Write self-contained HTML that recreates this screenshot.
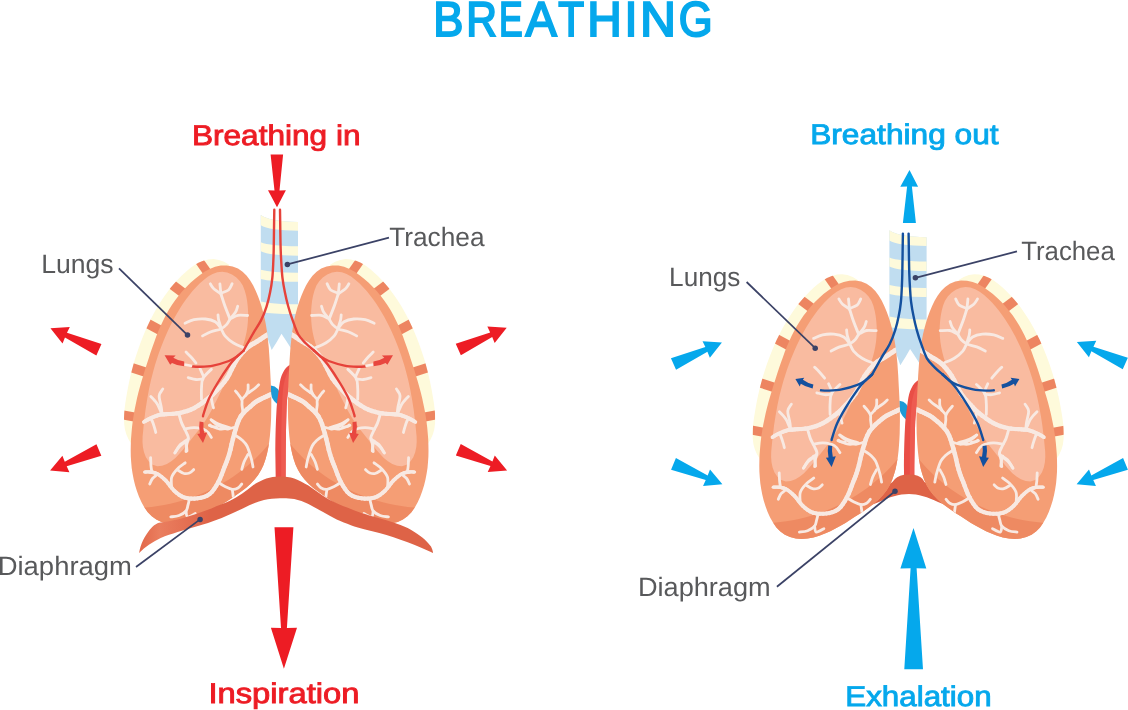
<!DOCTYPE html>
<html><head><meta charset="utf-8"><title>Breathing</title>
<style>
html,body{margin:0;padding:0;background:#fff;}
svg{display:block;font-family:"Liberation Sans",sans-serif;will-change:transform;}
.b{font-weight:bold;}
text{text-rendering:geometricPrecision;}
</style></head><body>
<svg width="1128" height="710" viewBox="0 0 1128 710">
<defs>
<linearGradient id="dgl" x1="139" y1="0" x2="215" y2="0" gradientUnits="userSpaceOnUse"><stop offset="0" stop-color="#EB7F5F"/><stop offset="1" stop-color="#DE6347"/></linearGradient>
<linearGradient id="dg" x1="139" y1="0" x2="433" y2="0" gradientUnits="userSpaceOnUse"><stop offset="0" stop-color="#E26749"/><stop offset="0.07" stop-color="#EA7E5F"/><stop offset="0.24" stop-color="#DE6347"/><stop offset="1" stop-color="#DE6347"/></linearGradient>
<clipPath id="lc"><path d="M220.8,265.5L226.8,265.4L232.6,266.4L238.0,268.6L242.6,271.8L246.7,275.8L250.2,280.5L253.2,285.6L255.8,291.0L258.1,296.5L260.1,302.1L261.9,307.7L263.4,313.3L264.8,319.1L265.9,324.8L266.8,330.6L267.6,336.4L268.2,342.3L268.8,348.1L269.2,354.0L269.6,359.9L269.9,365.8L270.2,371.6L270.5,377.4L270.8,383.3L271.0,389.1L271.2,394.9L271.3,400.8L271.3,406.6L271.2,412.4L271.1,418.3L270.8,424.2L270.4,430.1L269.9,436.1L269.2,442.0L268.2,447.9L267.0,453.8L265.4,459.4L263.5,464.9L261.1,470.1L258.1,475.0L254.6,479.5L250.6,483.7L246.2,487.7L241.5,491.3L236.6,494.8L231.6,498.2L226.6,501.4L221.7,504.6L216.8,507.7L211.9,510.6L206.8,513.4L201.7,516.0L196.3,518.4L190.6,520.5L184.8,522.2L178.9,523.3L173.0,523.8L167.2,523.3L161.5,521.9L156.3,519.6L151.8,516.3L147.8,512.2L144.4,507.4L141.5,502.3L139.0,496.7L136.9,491.0L135.1,485.3L133.7,479.6L132.6,473.8L131.7,468.1L131.2,462.3L130.8,456.5L130.7,450.7L130.8,444.8L131.0,439.0L131.5,433.1L132.0,427.3L132.7,421.4L133.6,415.6L134.6,409.8L135.8,404.0L137.0,398.3L138.4,392.6L139.9,386.9L141.5,381.3L143.2,375.7L144.9,370.1L146.7,364.5L148.5,358.9L150.3,353.3L152.2,347.7L154.2,342.2L156.2,336.6L158.4,331.1L160.7,325.7L163.2,320.4L165.8,315.2L168.7,310.1L171.7,305.2L175.0,300.4L178.6,295.7L182.3,291.2L186.3,286.9L190.5,282.8L194.9,278.9L199.6,275.2L204.5,271.8L209.7,268.9L215.1,266.7Z"/></clipPath>
<clipPath id="rc"><path d="M229.1,264.7L224.1,261.7L218.9,259.9L213.6,259.1L208.4,259.4L203.2,260.7L198.4,262.8L193.8,265.6L189.4,268.8L185.2,272.4L181.3,276.1L177.5,280.0L173.8,284.0L170.4,288.1L167.1,292.4L164.0,296.7L161.0,301.2L158.1,305.8L155.4,310.5L152.8,315.2L150.4,320.0L148.0,324.9L145.8,329.8L143.7,334.7L141.7,339.7L139.8,344.8L138.0,349.9L136.3,355.0L134.7,360.1L133.2,365.3L131.8,370.6L130.5,375.8L129.3,381.1L128.2,386.4L127.2,391.8L126.3,397.1L125.4,402.5L124.7,407.9L124.2,413.3L124.0,418.6L124.2,423.9L124.9,429.2L126.3,434.3L128.5,439.3L131.6,444.2L140,440L140,420L150,380L175,320L215,275L229,270Z"/></clipPath>
<g id="lung">
 <path d="M229.1,264.7L224.1,261.7L218.9,259.9L213.6,259.1L208.4,259.4L203.2,260.7L198.4,262.8L193.8,265.6L189.4,268.8L185.2,272.4L181.3,276.1L177.5,280.0L173.8,284.0L170.4,288.1L167.1,292.4L164.0,296.7L161.0,301.2L158.1,305.8L155.4,310.5L152.8,315.2L150.4,320.0L148.0,324.9L145.8,329.8L143.7,334.7L141.7,339.7L139.8,344.8L138.0,349.9L136.3,355.0L134.7,360.1L133.2,365.3L131.8,370.6L130.5,375.8L129.3,381.1L128.2,386.4L127.2,391.8L126.3,397.1L125.4,402.5L124.7,407.9L124.2,413.3L124.0,418.6L124.2,423.9L124.9,429.2L126.3,434.3L128.5,439.3L131.6,444.2L140,440L140,420L150,380L175,320L215,275L229,270Z" fill="#FEFADB"/>
 <g clip-path="url(#rc)" stroke="#ED8561"><line x1="196.9" y1="257.6" x2="209.5" y2="275.6" stroke-width="8.8"/><line x1="169.1" y1="282.4" x2="186.7" y2="295.6" stroke-width="9.6"/><line x1="145.3" y1="322.3" x2="164.7" y2="332.7" stroke-width="9.6"/><line x1="128.1" y1="366.6" x2="148.9" y2="373.2" stroke-width="9.4"/><line x1="118.2" y1="414.0" x2="139.8" y2="418.0" stroke-width="9.0"/></g>
 <path d="M220.8,265.5L226.8,265.4L232.6,266.4L238.0,268.6L242.6,271.8L246.7,275.8L250.2,280.5L253.2,285.6L255.8,291.0L258.1,296.5L260.1,302.1L261.9,307.7L263.4,313.3L264.8,319.1L265.9,324.8L266.8,330.6L267.6,336.4L268.2,342.3L268.8,348.1L269.2,354.0L269.6,359.9L269.9,365.8L270.2,371.6L270.5,377.4L270.8,383.3L271.0,389.1L271.2,394.9L271.3,400.8L271.3,406.6L271.2,412.4L271.1,418.3L270.8,424.2L270.4,430.1L269.9,436.1L269.2,442.0L268.2,447.9L267.0,453.8L265.4,459.4L263.5,464.9L261.1,470.1L258.1,475.0L254.6,479.5L250.6,483.7L246.2,487.7L241.5,491.3L236.6,494.8L231.6,498.2L226.6,501.4L221.7,504.6L216.8,507.7L211.9,510.6L206.8,513.4L201.7,516.0L196.3,518.4L190.6,520.5L184.8,522.2L178.9,523.3L173.0,523.8L167.2,523.3L161.5,521.9L156.3,519.6L151.8,516.3L147.8,512.2L144.4,507.4L141.5,502.3L139.0,496.7L136.9,491.0L135.1,485.3L133.7,479.6L132.6,473.8L131.7,468.1L131.2,462.3L130.8,456.5L130.7,450.7L130.8,444.8L131.0,439.0L131.5,433.1L132.0,427.3L132.7,421.4L133.6,415.6L134.6,409.8L135.8,404.0L137.0,398.3L138.4,392.6L139.9,386.9L141.5,381.3L143.2,375.7L144.9,370.1L146.7,364.5L148.5,358.9L150.3,353.3L152.2,347.7L154.2,342.2L156.2,336.6L158.4,331.1L160.7,325.7L163.2,320.4L165.8,315.2L168.7,310.1L171.7,305.2L175.0,300.4L178.6,295.7L182.3,291.2L186.3,286.9L190.5,282.8L194.9,278.9L199.6,275.2L204.5,271.8L209.7,268.9L215.1,266.7Z" fill="#F59E75"/>
 <g clip-path="url(#lc)">
  <path d="M222.2,271.7L227.2,272.5L232.0,274.5L236.4,277.5L240.0,281.2L242.8,285.6L244.7,290.4L246.1,295.5L247.1,300.7L247.7,306.0L248.1,311.2L248.1,316.4L247.9,321.6L247.4,326.8L246.6,331.9L245.5,337.0L244.2,342.0L242.6,346.9L240.7,351.7L238.6,356.4L236.3,361.1L233.9,365.7L231.4,370.4L229.0,375.0L226.6,379.7L224.3,384.4L222.0,389.2L219.7,393.9L217.5,398.6L215.1,403.3L212.8,407.9L210.3,412.4L207.7,416.9L205.0,421.2L202.1,425.4L199.1,429.5L195.9,433.6L192.7,437.6L189.4,441.7L186.1,445.8L182.7,450.0L179.1,454.1L175.4,458.0L171.3,461.3L166.9,464.0L162.1,465.8L157.3,466.2L152.7,464.7L148.8,461.6L145.9,457.3L144.0,452.3L142.9,447.1L142.5,441.9L142.6,436.6L143.1,431.4L143.6,426.1L144.1,420.9L144.8,415.7L145.4,410.6L146.2,405.4L147.0,400.3L147.9,395.2L148.8,390.2L149.9,385.1L151.0,380.1L152.3,375.0L153.6,370.0L155.0,365.0L156.6,360.0L158.2,355.0L160.0,350.1L161.8,345.2L163.8,340.3L165.8,335.5L167.9,330.7L170.2,326.0L172.5,321.4L175.0,316.8L177.5,312.4L180.2,308.0L182.9,303.7L185.9,299.5L189.0,295.4L192.3,291.3L195.8,287.4L199.6,283.6L203.7,279.9L208.1,276.6L212.6,274.0L217.3,272.2Z" fill="#F9BBA0"/>
  <path d="M119.9,507.9L126.3,508.1L132.6,508.2L139.0,508.0L145.3,507.5L151.6,506.9L157.8,506.0L164.1,505.0L170.3,503.7L176.4,502.2L182.5,500.5L188.5,498.7L194.4,496.6L200.3,494.3L206.1,491.8L211.8,489.1L217.4,486.2L222.8,483.1L228.2,479.9L233.5,476.4L238.6,472.8L243.6,468.9L248.4,464.9L253.2,460.7L257.7,456.3L262.1,451.8L266.3,447.0L270.4,442.1L274.2,437.0L277.9,431.8L285,540L115,540Z" fill="#EE8A62"/>
  <g fill="none" stroke="#F8E9E2" stroke-linecap="round" stroke-linejoin="round"><path d="M268.5,334.0L266.4,335.4" stroke-width="4.80"/><path d="M266.4,335.4L263.4,337.3" stroke-width="4.80"/><path d="M263.4,337.3L260.1,339.5" stroke-width="4.80"/><path d="M260.1,339.5L257.0,341.5" stroke-width="4.80"/><path d="M257.0,341.5L254.2,343.2" stroke-width="4.79"/><path d="M254.2,343.2L251.5,344.7" stroke-width="4.79"/><path d="M251.5,344.7L248.8,346.5" stroke-width="4.79"/><path d="M248.8,346.5L246.2,348.6" stroke-width="4.78"/><path d="M246.2,348.6L243.6,351.2" stroke-width="4.77"/><path d="M243.6,351.2L241.0,354.2" stroke-width="4.77"/><path d="M241.0,354.2L238.5,357.4" stroke-width="4.76"/><path d="M238.5,357.4L236.0,361.0" stroke-width="4.75"/><path d="M236.0,361.0L233.7,365.1" stroke-width="4.74"/><path d="M233.7,365.1L231.4,369.7" stroke-width="4.73"/><path d="M231.4,369.7L229.2,374.3" stroke-width="4.71"/><path d="M229.2,374.3L226.9,378.3" stroke-width="4.70"/><path d="M226.9,378.3L224.4,381.7" stroke-width="4.69"/><path d="M224.4,381.7L221.9,384.7" stroke-width="4.67"/><path d="M221.9,384.7L219.4,387.5" stroke-width="4.65"/><path d="M219.4,387.5L217.0,390.0" stroke-width="4.63"/><path d="M217.0,390.0L214.9,392.2" stroke-width="4.62"/><path d="M214.9,392.2L213.1,394.1" stroke-width="4.59"/><path d="M213.1,394.1L211.1,396.0" stroke-width="4.57"/><path d="M211.1,396.0L208.6,398.0" stroke-width="4.55"/><path d="M208.6,398.0L205.5,400.5" stroke-width="4.53"/><path d="M205.5,400.5L201.9,403.1" stroke-width="4.50"/><path d="M201.9,403.1L198.2,405.7" stroke-width="4.48"/><path d="M198.2,405.7L194.5,407.9" stroke-width="4.45"/><path d="M194.5,407.9L191.0,409.6" stroke-width="4.42"/><path d="M191.0,409.6L187.5,410.9" stroke-width="4.39"/><path d="M187.5,410.9L183.9,411.9" stroke-width="4.36"/><path d="M183.9,411.9L180.4,412.8" stroke-width="4.32"/><path d="M180.4,412.8L176.7,413.4" stroke-width="4.29"/><path d="M176.7,413.4L172.9,413.8" stroke-width="4.26"/><path d="M172.9,413.8L169.3,414.0" stroke-width="4.22"/><path d="M169.3,414.0L166.3,414.2" stroke-width="4.18"/><path d="M166.3,414.2L164.1,414.4" stroke-width="4.14"/><path d="M164.1,414.4L162.5,414.4" stroke-width="4.10"/><path d="M162.5,414.4L161.0,414.5" stroke-width="4.06"/><path d="M161.0,414.5L159.3,414.9" stroke-width="4.02"/><path d="M159.3,414.9L157.1,415.6" stroke-width="3.97"/><path d="M157.1,415.6L154.6,416.5" stroke-width="3.93"/><path d="M154.6,416.5L152.2,417.5" stroke-width="3.88"/><path d="M152.2,417.5L150.0,418.5" stroke-width="3.83"/><path d="M150.0,418.5L148.1,419.5" stroke-width="3.78"/><path d="M148.1,419.5L146.3,420.5" stroke-width="3.73"/><path d="M146.3,420.5L144.8,421.4" stroke-width="3.68"/><path d="M144.8,421.4L143.8,422.0" stroke-width="3.63"/><path d="M271.3,394.3L269.6,395.0" stroke-width="4.60"/><path d="M269.6,395.0L267.2,396.1" stroke-width="4.60"/><path d="M267.2,396.1L264.5,397.3" stroke-width="4.60"/><path d="M264.5,397.3L262.0,398.5" stroke-width="4.60"/><path d="M262.0,398.5L259.9,399.6" stroke-width="4.60"/><path d="M259.9,399.6L257.9,400.6" stroke-width="4.59"/><path d="M257.9,400.6L255.8,401.9" stroke-width="4.59"/><path d="M255.8,401.9L253.4,403.8" stroke-width="4.59"/><path d="M253.4,403.8L250.4,406.4" stroke-width="4.58"/><path d="M250.4,406.4L246.9,409.4" stroke-width="4.58"/><path d="M246.9,409.4L243.5,412.9" stroke-width="4.57"/><path d="M243.5,412.9L240.7,416.5" stroke-width="4.56"/><path d="M240.7,416.5L238.7,420.3" stroke-width="4.56"/><path d="M238.7,420.3L237.1,424.4" stroke-width="4.55"/><path d="M237.1,424.4L235.8,428.8" stroke-width="4.54"/><path d="M235.8,428.8L234.4,433.4" stroke-width="4.53"/><path d="M234.4,433.4L233.0,438.6" stroke-width="4.52"/><path d="M233.0,438.6L231.6,444.2" stroke-width="4.51"/><path d="M231.6,444.2L230.4,449.7" stroke-width="4.49"/><path d="M230.4,449.7L229.1,454.5" stroke-width="4.48"/><path d="M229.1,454.5L227.9,458.2" stroke-width="4.47"/><path d="M227.9,458.2L226.9,461.1" stroke-width="4.45"/><path d="M226.9,461.1L225.8,463.9" stroke-width="4.44"/><path d="M225.8,463.9L224.5,467.0" stroke-width="4.42"/><path d="M224.5,467.0L223.1,470.7" stroke-width="4.40"/><path d="M223.1,470.7L221.6,474.7" stroke-width="4.39"/><path d="M221.6,474.7L220.0,478.7" stroke-width="4.37"/><path d="M220.0,478.7L218.2,482.3" stroke-width="4.35"/><path d="M218.2,482.3L216.3,485.7" stroke-width="4.33"/><path d="M216.3,485.7L214.3,488.8" stroke-width="4.31"/><path d="M214.3,488.8L212.1,491.7" stroke-width="4.28"/><path d="M212.1,491.7L209.7,494.0" stroke-width="4.26"/><path d="M209.7,494.0L207.0,495.7" stroke-width="4.24"/><path d="M207.0,495.7L204.1,496.9" stroke-width="4.21"/><path d="M204.1,496.9L201.0,497.8" stroke-width="4.19"/><path d="M201.0,497.8L197.9,498.3" stroke-width="4.16"/><path d="M197.9,498.3L194.6,498.6" stroke-width="4.13"/><path d="M194.6,498.6L191.1,498.6" stroke-width="4.10"/><path d="M191.1,498.6L187.6,498.2" stroke-width="4.07"/><path d="M187.6,498.2L184.4,497.5" stroke-width="4.04"/><path d="M184.4,497.5L181.6,496.3" stroke-width="4.01"/><path d="M181.6,496.3L179.0,494.7" stroke-width="3.98"/><path d="M179.0,494.7L176.5,492.8" stroke-width="3.94"/><path d="M176.5,492.8L174.2,490.7" stroke-width="3.91"/><path d="M174.2,490.7L172.0,488.3" stroke-width="3.87"/><path d="M172.0,488.3L169.9,485.7" stroke-width="3.84"/><path d="M169.9,485.7L167.9,483.0" stroke-width="3.80"/><path d="M167.9,483.0L165.8,480.6" stroke-width="3.76"/><path d="M165.8,480.6L163.7,478.6" stroke-width="3.72"/><path d="M163.7,478.6L161.5,476.7" stroke-width="3.68"/><path d="M161.5,476.7L159.3,475.1" stroke-width="3.64"/><path d="M159.3,475.1L157.3,473.8" stroke-width="3.60"/><path d="M157.3,473.8L155.3,473.0" stroke-width="3.56"/><path d="M155.3,473.0L153.5,472.5" stroke-width="3.51"/><path d="M153.5,472.5L151.7,472.2" stroke-width="3.47"/><path d="M151.7,472.2L150.0,472.0" stroke-width="3.42"/><path d="M150.0,472.0L148.4,471.9" stroke-width="3.37"/><path d="M148.4,471.9L146.8,471.9" stroke-width="3.33"/><path d="M146.8,471.9L145.5,472.0" stroke-width="3.28"/><path d="M145.5,472.0L144.6,472.0" stroke-width="3.23"/><path d="M210.3,283.8C210.9,284.7 212.2,287.4 214.0,289.0C215.8,290.6 219.7,292.9 220.8,293.7" stroke-width="2.8"/><path d="M219.9,283.8C220.0,284.8 220.3,288.2 220.5,290.0C220.7,291.8 221.0,293.7 221.1,294.4" stroke-width="2.8"/><path d="M232.1,283.8C231.5,284.8 230.3,288.5 228.5,290.0C226.7,291.5 222.7,292.5 221.5,293.0" stroke-width="2.8"/><path d="M221.1,294.4C221.8,296.4 223.5,302.2 225.0,306.3C226.5,310.4 229.2,316.9 230.0,319.0" stroke-width="2.9"/><path d="M230.0,319.0C230.9,317.8 234.3,314.1 235.6,312.0C236.9,309.9 237.3,307.2 237.7,306.3" stroke-width="2.8"/><path d="M232.0,318.0C233.0,317.6 235.4,315.7 238.0,315.3C240.6,314.9 246.0,315.5 247.6,315.5" stroke-width="2.8"/><path d="M230.0,319.0C229.4,319.9 228.0,323.0 226.5,324.6C225.0,326.2 223.4,327.7 220.8,328.9C218.2,330.1 214.1,330.5 211.0,331.7C207.9,332.9 203.9,335.2 202.5,335.9" stroke-width="2.8"/><path d="M185.0,323.2C186.5,322.6 190.6,320.4 194.0,319.7C197.4,319.0 201.9,318.6 205.4,319.0C208.9,319.4 212.6,320.3 215.2,321.8C217.8,323.3 219.2,325.9 220.8,328.2C222.4,330.5 222.9,333.4 225.0,335.9C227.1,338.4 230.4,341.1 233.5,343.0C236.6,344.9 241.8,346.8 243.4,347.5" stroke-width="2.8"/><path d="M218.0,314.8C218.1,315.7 218.2,318.4 218.7,320.4C219.2,322.4 220.5,325.7 220.8,326.8" stroke-width="2.8"/><path d="M211.4,369.2C210.0,370.7 204.7,375.1 203.0,378.3C201.3,381.5 201.8,384.7 201.5,388.2C201.2,391.7 201.5,397.5 201.5,399.4" stroke-width="2.8"/><path d="M188.2,377.6C189.5,377.9 193.5,379.3 196.0,379.5C198.5,379.7 201.8,379.1 203.0,379.0" stroke-width="2.8"/><path d="M200.0,368.5C200.3,369.2 201.4,371.6 202.0,373.0C202.6,374.4 203.4,376.3 203.7,377.0" stroke-width="2.8"/><path d="M186.0,352.0C186.8,352.8 189.3,355.2 191.0,357.0C192.7,358.8 195.2,362.0 196.0,363.0" stroke-width="2.8"/><path d="M162.8,388.9C162.3,389.8 160.2,392.5 159.6,394.0C159.0,395.5 159.0,395.7 159.3,398.0C159.6,400.3 161.0,405.2 161.4,407.9C161.8,410.6 161.9,413.1 162.0,414.2" stroke-width="2.8"/><path d="M150.8,396.6C151.5,397.3 153.8,399.6 155.0,401.0C156.2,402.4 157.0,403.3 157.9,405.0C158.8,406.7 160.2,410.3 160.7,411.4" stroke-width="2.8"/><path d="M151.5,419.5C151.8,420.1 152.5,421.6 153.0,423.0C153.5,424.4 154.1,426.4 154.6,428.0C155.1,429.6 155.6,431.8 155.8,432.5" stroke-width="2.8"/><path d="M179.0,414.2C179.5,415.7 180.6,420.5 181.8,423.4C183.0,426.3 184.9,429.2 186.0,431.8C187.1,434.4 189.1,436.8 188.2,438.9C187.3,441.0 182.6,442.1 180.4,444.5C178.2,446.9 175.7,451.6 174.8,453.0" stroke-width="2.9"/><path d="M188.2,438.9C188.0,439.8 187.2,442.4 186.8,444.5C186.4,446.6 186.1,450.3 186.0,451.5" stroke-width="2.8"/><path d="M184.6,429.0C186.2,428.8 191.0,427.4 194.5,427.6C198.0,427.8 203.0,428.8 205.8,430.4C208.6,432.0 210.5,436.3 211.4,437.5" stroke-width="2.8"/><path d="M211.4,419.9C212.6,420.6 215.4,422.7 218.5,424.0C221.6,425.3 227.8,427.0 229.7,427.6" stroke-width="2.8"/><path d="M209.3,425.5C211.1,426.1 217.1,428.5 219.9,429.0C222.7,429.5 225.0,428.6 226.0,428.5" stroke-width="2.8"/><path d="M213.5,407.9C213.2,406.9 212.3,403.6 212.0,402.0C211.7,400.4 211.5,398.7 211.4,398.0" stroke-width="2.8"/><path d="M242.8,411.2C242.7,410.2 242.2,406.9 242.0,405.0C241.8,403.1 242.5,401.4 241.8,399.6C241.1,397.8 239.1,395.4 238.0,394.0C236.9,392.6 235.8,391.5 235.4,391.0" stroke-width="2.8"/><path d="M241.8,399.6C242.5,398.8 244.8,396.2 246.0,395.0C247.2,393.8 248.7,392.7 249.2,392.2" stroke-width="2.8"/><path d="M246.0,395.0C246.3,394.2 247.7,391.7 248.0,390.0C248.3,388.3 248.1,385.7 248.1,384.8" stroke-width="2.8"/><path d="M249.2,392.2C250.0,391.7 252.4,390.2 254.0,389.0C255.6,387.8 257.9,385.5 258.7,384.8" stroke-width="2.8"/><path d="M235.4,427.0C234.2,427.3 229.9,428.8 228.0,429.0C226.1,429.2 225.8,428.8 223.8,428.0C221.8,427.2 218.1,425.4 216.0,424.0C213.9,422.6 211.8,420.4 211.0,419.7" stroke-width="2.8"/><path d="M216.4,427.0C215.7,426.9 213.1,426.8 212.0,426.5C210.9,426.2 210.3,425.2 210.0,425.0" stroke-width="2.8"/><path d="M235.4,435.5C236.5,436.2 240.1,438.2 242.0,440.0C243.9,441.8 245.4,442.9 247.0,446.0C248.6,449.1 250.3,455.2 251.3,458.7C252.3,462.2 252.7,465.6 253.0,467.0" stroke-width="2.8"/><path d="M248.0,454.5C247.3,455.8 245.0,459.5 244.0,462.0C243.0,464.5 242.2,468.1 241.8,469.3" stroke-width="2.8"/><path d="M217.5,482.0C218.8,482.8 222.5,485.3 225.0,486.5C227.5,487.7 230.1,489.1 232.3,489.4C234.5,489.6 236.4,488.9 238.0,488.0C239.6,487.1 241.2,484.7 241.8,484.0" stroke-width="2.8"/><path d="M232.3,489.4C232.4,490.0 232.6,491.8 232.8,493.0C233.0,494.2 233.2,496.2 233.3,496.8" stroke-width="2.8"/><path d="M171.7,488.0C171.7,486.2 170.7,480.4 171.7,477.2C172.7,474.0 175.3,471.1 177.6,468.7C179.8,466.3 183.9,463.8 185.2,462.8" stroke-width="2.8"/><path d="M177.6,470.0C178.7,470.6 182.0,473.0 184.0,473.5C186.0,474.0 187.8,473.6 189.4,473.0C191.0,472.4 193.0,470.2 193.7,469.6" stroke-width="2.8"/><path d="M150.6,457.7C150.7,459.1 150.8,463.5 151.0,466.0C151.2,468.5 151.8,471.4 152.0,472.5" stroke-width="2.8"/><path d="M157.3,474.5C156.5,475.2 153.8,476.9 152.5,478.5C151.2,480.1 150.2,483.1 149.7,484.0" stroke-width="2.8"/><path d="M189.4,499.0C189.2,500.0 188.6,503.0 188.0,505.0C187.4,507.0 187.5,509.2 186.0,511.0C184.5,512.8 181.5,514.5 179.0,515.5C176.5,516.5 172.2,516.7 170.8,516.9" stroke-width="2.8"/><path d="M186.0,511.0C186.3,512.0 186.1,516.5 187.7,516.9C189.2,517.3 194.0,514.1 195.3,513.5" stroke-width="2.8"/><path d="M175.0,452.7C175.7,451.8 177.4,448.7 179.0,447.0C180.6,445.3 183.5,443.2 184.4,442.5" stroke-width="2.8"/><path d="M187.0,451.0C186.9,450.2 186.8,447.7 186.5,446.0C186.2,444.3 185.2,441.8 185.0,441.0" stroke-width="2.8"/></g>
 </g>
</g>
<g id="trachea">
 <path d="M260.8,215.1 Q269,221.5 298,222.1 L298,306 Q296,330 290.8,348 Q287,342 281.5,333.8 Q277,342 271.7,350 Q264,330 260.8,306 Z" fill="#C0DDF0"/>
 <g fill="#FEFADB">
  <path d="M260.8,215.1 Q269,221.5 298,222.1 L298,230.7 Q269,230.5 260.8,225.3Z"/>
  <path d="M260.8,242.2 Q270,246 298,246.2 L298,255.7 Q270,255.5 260.8,251.2Z"/>
  <path d="M260.8,269.8 Q272,272.8 298,272.7 L298,281.7 Q272,281.9 260.8,278.9Z"/>
  <path d="M260.8,301.4 Q274,304.5 298,304.2 L298,314 Q274,314.3 261.6,312Z"/>
 </g>
</g>
<g id="vessel">
 <path d="M270.8,385.5 Q279.5,386.5 281,397 L279.5,405.5 Q273,402 270.8,394Z" fill="#1C9AD6"/>
 <path d="M292,363.5 C286,366 281.5,373 279.8,382.4 C278.5,391 277,402 276.5,410 C275.8,422 275.4,435 275.3,450 L275.7,477.5 L285.6,477.5 L285.7,455 C285.8,440 286.2,420 286.5,410 C286.8,400 288,385 292,376 Z" fill="#E94E46"/>
 <path d="M292,366 C287,370 284,380 282.8,392 C282,402 281.5,420 281.2,440 L281.2,477.5 L285.6,477.5 L285.7,455 C285.8,440 286.2,420 286.5,410 C286.8,400 288,385 292,376 Z" fill="#EE5B51"/>
</g>
<g id="back">
 <use href="#trachea"/>
 <use href="#vessel"/>
</g>
<g id="lungs">
 <use href="#lung"/>
 <use href="#lung" transform="translate(559.2,0) scale(-1,1)"/>
</g>
<g id="flow" fill="none" stroke-linecap="round"><path d="M274.3,209.8C274.2,213.2 274.1,223.3 274.0,230.0C273.9,236.7 273.8,244.3 273.7,250.0C273.6,255.7 273.4,259.3 273.2,264.0C273.0,268.7 272.8,273.5 272.3,278.2C271.8,282.9 271.1,287.6 270.1,292.3C269.2,297.0 268.1,301.6 266.6,306.3C265.1,311.0 263.4,315.7 261.0,320.4C258.6,325.1 255.4,329.4 252.5,334.5C249.6,339.6 245.0,348.0 243.5,350.7"/><path d="M243.5,350.7C242.4,351.7 239.4,354.8 237.0,356.5C234.6,358.2 232.9,359.5 228.9,361.0C224.9,362.5 217.9,364.6 213.1,365.6C208.3,366.6 203.4,366.7 200.0,366.8C196.6,366.9 193.7,366.6 192.4,366.5"/><path d="M243.5,350.7C242.2,351.8 238.3,355.1 236.0,357.5C233.7,359.9 232.9,360.4 229.7,364.8C226.5,369.2 220.5,378.2 217.0,384.0C213.5,389.8 210.8,394.5 208.6,399.4C206.4,404.3 204.6,410.7 203.7,413.5C202.8,416.3 203.1,415.8 203.0,416.3"/><path d="M280.0,209.8C280.1,213.2 280.2,223.3 280.3,230.0C280.4,236.7 280.5,244.3 280.7,250.0C280.9,255.7 281.1,259.3 281.4,264.0C281.7,268.7 281.9,273.5 282.5,278.2C283.1,282.9 283.9,287.6 284.9,292.3C285.8,297.0 286.9,301.6 288.2,306.3C289.5,311.0 291.0,315.7 292.7,320.4C294.4,325.1 296.1,330.6 298.3,334.5C300.5,338.4 303.4,340.8 306.0,343.5C308.6,346.2 312.8,349.5 314.1,350.7"/><path d="M314.1,350.7C315.2,351.7 318.2,354.8 320.6,356.5C323.0,358.2 324.7,359.5 328.7,361.0C332.7,362.5 339.7,364.6 344.5,365.6C349.3,366.6 354.2,366.7 357.6,366.8C361.1,366.9 363.9,366.6 365.2,366.5"/><path d="M314.1,350.7C315.4,351.8 319.3,355.1 321.6,357.5C323.9,359.9 324.7,360.4 327.9,364.8C331.1,369.2 337.1,378.2 340.6,384.0C344.1,389.8 346.8,394.5 349.0,399.4C351.2,404.3 353.0,410.7 353.9,413.5C354.8,416.3 354.5,415.8 354.6,416.3"/></g>
<path id="arrS" d="M0,-6.3 L36,-2.5 L35.8,-9 L53,0 L35.8,9 L36,2.5 L0,6.3Z"/>
</defs>
<rect width="1128" height="710" fill="#fff"/>

<g aria-label="BREATHING" font-size="49" fill="#05A8EC" stroke="#05A8EC" stroke-width="2" stroke-linejoin="miter" text-rendering="geometricPrecision"><text transform="translate(433.22,35.7) scale(0.9228,1)">B</text><text transform="translate(466.18,35.7) scale(0.8694,1)">R</text><text transform="translate(498.91,35.7) scale(0.7248,1)">E</text><text transform="translate(525.56,35.7) scale(0.9569,1)">A</text><text transform="translate(558.23,35.7) scale(0.8643,1)">T</text><text transform="translate(587.25,35.7) scale(0.9765,1)">H</text><text transform="translate(624.45,35.7) scale(0.9537,1)">I</text><text transform="translate(640.03,35.7) scale(1.0173,1)">N</text><text transform="translate(678.81,35.7) scale(0.8883,1)">G</text></g>

<!-- LEFT FIGURE -->
<use href="#back"/><use href="#lungs"/>
<use href="#flow" stroke="#E6423A" stroke-width="2.4"/>
<g fill="#E8473F">
 <path d="M164.6,355.2 L175.7,355.6 L173.3,357.7 Q178,360.6 184.2,361.6 L184.2,366.3 Q177,365.6 172,362.9 L170.2,364.8Z"/><path d="M203,443.1 L197.3,433.9 L199.9,433.6 Q198.6,427.5 199.6,421.6 L203.6,422.2 Q202.9,427.5 204.2,433 L207.2,432.5Z"/>
 <g transform="translate(557.6,0) scale(-1,1)"><path d="M164.6,355.2 L175.7,355.6 L173.3,357.7 Q178,360.6 184.2,361.6 L184.2,366.3 Q177,365.6 172,362.9 L170.2,364.8Z"/><path d="M203,443.1 L197.3,433.9 L199.9,433.6 Q198.6,427.5 199.6,421.6 L203.6,422.2 Q202.9,427.5 204.2,433 L207.2,432.5Z" transform="translate(1.5,0)"/></g>
</g>
<g stroke="#FBEDE6" stroke-width="2.4" fill="none">
 <path d="M184.4,364.5 L192.2,366"/><path d="M373.20000000000005,364.5 L365.40000000000003,366"/>
</g>
<path d="M139.1,552.9 C140.5,545 144,536 152.2,527 C155,524.5 157,523.5 159,522.8 C166,521.5 172,520.5 177.6,519.4 C184,518 189,516 194.5,514.4 C200,512.5 206,510.5 211.4,508.4 C218,505.5 224,503.5 230,500.8 C238,497 246,491 253.4,485 C262,479.5 270,476.5 279,476.5 C285,476.5 290,477 294.2,478.4 C299,480 304,483 308.4,485.5 C313,488.5 318,492.5 322.6,495.5 C327,498.5 332,501 336.7,503.3 C341,505.5 346,507 350.9,508.9 C356,510.8 360,512.5 365.1,513.9 C370,515.5 374,516.8 379.3,518.2 C384,519.5 389,521 393.5,522.4 C398,524 403,525.8 407.7,528 C410,529.3 412.5,530.8 414.8,532.3 C418.5,534.5 421.5,536.8 424.7,539.4 C427,541.5 429.2,544 431,546.5 C432,548.5 432.7,550.5 433.2,552.9 C429.5,551.5 425.5,549.8 421.8,548 C417,546 412.5,544.2 407.7,542.3 C403,540.5 398,539 393.5,537.3 C389,535.8 384,534.3 379.3,533 C374.5,531.8 370,530.8 365.1,529.5 C360,528.2 355.5,526.8 350.9,525.2 C346,523.5 341.5,521.8 336.7,519.6 C332,517.3 327.5,514.6 322.6,511.8 C318,509.2 313,506.3 308.4,504 C304,501.8 299,500 294.2,499 C290,498.3 285,498.2 280,498.3 C274.5,498.4 269,499 264,500 C256.5,501.8 249.5,505 242.8,508.4 C236,511.5 229,515 221.7,518 C212.5,521.5 203.5,524.5 194.5,527 C189,528.6 183,530.4 177.6,532.1 C172,533.9 166,535.9 160.7,538 C156.5,540 152.5,542.4 148.9,544.8 C145.5,547.2 142.2,550 139.1,552.9Z" fill="url(#dg)"/>
<g fill="#ED1C24">
 <path d="M270.6,154.6 L283.1,154.6 L279.5,190.5 L285.9,190.3 L277,207.2 L268,190.3 L274.5,190.5Z"/>
 <path d="M274.5,527.2 L293.4,527.2 L286.9,628 L297,627.7 L283.9,668.7 L270.9,627.7 L281,628Z"/>
 <use href="#arrS" transform="translate(98.9,349.7) rotate(203.9)"/>
 <use href="#arrS" transform="translate(98.9,450) rotate(157.1)"/>
 <use href="#arrS" transform="translate(458.3,349.4) rotate(-24)"/>
 <use href="#arrS" transform="translate(458.3,449.7) rotate(23)"/>
</g>
<g stroke="#3B4266" stroke-width="1.75" fill="#3B4266">
 <line x1="119" y1="268.4" x2="187.5" y2="335.1"/><circle cx="187.5" cy="335.1" r="2.75" stroke="none"/>
 <line x1="389" y1="237.7" x2="287.4" y2="264.4"/><circle cx="287.4" cy="264.4" r="2.75" stroke="none"/>
 <line x1="136" y1="567" x2="200.1" y2="519.4"/><circle cx="200.1" cy="519.4" r="2.75" stroke="none"/>
</g>
<g font-size="26.5" fill="#58595B">
 <text x="41.2" y="273.2" textLength="72.4" lengthAdjust="spacingAndGlyphs">Lungs</text>
 <text x="389.2" y="246.1" textLength="95.4" lengthAdjust="spacingAndGlyphs">Trachea</text>
 <text x="-2.3" y="575.3" textLength="134.2" lengthAdjust="spacingAndGlyphs">Diaphragm</text>
</g>
<g font-size="28.5" fill="#ED1C24" stroke="#ED1C24" stroke-width="0.9">
 <text x="191.9" y="144.8" textLength="168.7" lengthAdjust="spacingAndGlyphs">Breathing in</text>
 <text x="208.4" y="702.8" textLength="151.1" lengthAdjust="spacingAndGlyphs">Inspiration</text>
</g>

<!-- RIGHT FIGURE -->
<use href="#back" transform="translate(628.6,15.2)"/>
<path d="M892.5,482 Q896,476 904,474.7 Q909,474.1 914,474.7 Q922,476 924.5,482 L940,492 L968,506 C955,507.5 947,506 938,502 C928,497 918,494 909,494 C899,494 889,497 879,502 C870,506 860,507.5 848,506 L880,490 Z" fill="#DE6347"/>
<use href="#lungs" transform="translate(628.6,15.2)"/>
<g transform="translate(628.6,23.8)">
 <use href="#flow" stroke="#14509E" stroke-width="2.4"/>
 <g fill="#14509E">
  <path d="M166.8,365.2 L175.6,364 L174.3,366 Q178.5,369.2 184.8,370.6 L184,374.6 Q176.6,373 172.2,369.9 L171.2,372.6Z" transform="translate(0,-10)"/><path d="M203,443.1 L197.3,433.9 L199.9,433.6 Q198.6,427.5 199.6,421.6 L203.6,422.2 Q202.9,427.5 204.2,433 L207.2,432.5Z"/>
  <g transform="translate(557.6,0) scale(-1,1)"><path d="M166.8,365.2 L175.6,364 L174.3,366 Q178.5,369.2 184.8,370.6 L184,374.6 Q176.6,373 172.2,369.9 L171.2,372.6Z" transform="translate(0,-10)"/><path d="M203,443.1 L197.3,433.9 L199.9,433.6 Q198.6,427.5 199.6,421.6 L203.6,422.2 Q202.9,427.5 204.2,433 L207.2,432.5Z"/></g>
 </g>
</g>
<g fill="#05A8EC">
 <path d="M909.5,169.9 L918.1,186.8 L911.9,186.6 L915.9,222.9 L902.9,222.9 L907.1,186.6 L900.3,186.8Z"/>
 <path d="M913.5,527.9 L926.3,568.5 L916.6,568.2 L923,669.2 L904.3,669.2 L910.6,568.2 L900.4,568.5Z"/>
 <use href="#arrS" transform="translate(673.5,364) rotate(-24)"/>
 <use href="#arrS" transform="translate(673.5,463.9) rotate(22.7)"/>
 <use href="#arrS" transform="translate(1125.3,363.6) rotate(204)"/>
 <use href="#arrS" transform="translate(1125.5,463.9) rotate(157.3)"/>
</g>
<g stroke="#3B4266" stroke-width="1.75" fill="#3B4266">
 <line x1="746.6" y1="282" x2="815.2" y2="348.2"/><circle cx="815.2" cy="348.2" r="2.75" stroke="none"/>
 <line x1="1017" y1="251.4" x2="915.4" y2="277.8"/><circle cx="915.4" cy="277.8" r="2.75" stroke="none"/>
 <line x1="776.9" y1="586.8" x2="895" y2="491.3"/><circle cx="895" cy="491.3" r="2.75" stroke="none"/>
</g>
<g font-size="26.5" fill="#58595B">
 <text x="669.1" y="286.3" textLength="71.2" lengthAdjust="spacingAndGlyphs">Lungs</text>
 <text x="1021.2" y="259.6" textLength="93.6" lengthAdjust="spacingAndGlyphs">Trachea</text>
 <text x="637.9" y="595.5" textLength="132.8" lengthAdjust="spacingAndGlyphs">Diaphragm</text>
</g>
<g font-size="28.5" fill="#05A8EC" stroke="#05A8EC" stroke-width="0.9">
 <text x="810.2" y="144.4" textLength="188.4" lengthAdjust="spacingAndGlyphs">Breathing out</text>
 <text x="845.3" y="705.5" textLength="146.3" lengthAdjust="spacingAndGlyphs">Exhalation</text>
</g>
</svg>
</body></html>
